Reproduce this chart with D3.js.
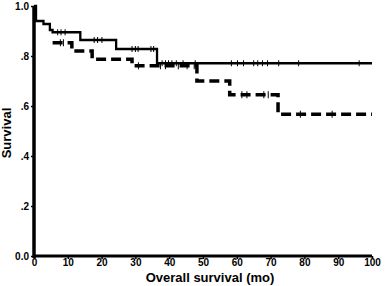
<!DOCTYPE html>
<html><head><meta charset="utf-8">
<script src="https://cdn.jsdelivr.net/npm/d3@7"></script>
<style>body{margin:0;background:#fff}svg{display:block}text{font-family:"Liberation Sans",Arial,sans-serif;font-weight:bold;fill:#000}</style>
</head><body><svg id="c" width="387" height="286"></svg>
<script>
const xTicks = [0,10,20,30,40,50,60,70,80,90,100];
const yTicks = [0,0.2,0.4,0.6,0.8,1.0];
const yTickLabels = ["0.0",".2",".4",".6",".8","1.0"];
const solidTimes = [0,0.6,2.8,4.7,5.5,13.7,24.3,36.4,100];
const solidSurv  = [1.0,0.94,0.928,0.904,0.895,0.864,0.828,0.771,0.771];
const solidCensorT = [7,8,9.2,17.8,18.8,20.1,29,30,30.8,34.6,35.4,37.9,38.9,39.8,40.8,42.1,44.1,47.7,58.4,60.2,62,65,66.2,67.6,69.1,72.4,78.3,96.2];
const dashTimes = [5.5,11.2,17.2,29,48.2,57.9,72.2,100];
const dashSurv  = [0.853,0.82,0.787,0.761,0.70,0.645,0.567,0.567];
const dashCensorT = [7.8,8.7,30.9,37.4,38.9,42.7,45.3,47.4,61.5,63,68,69.3,78.8,88.2];

const svg = d3.select("#c");
const x = d3.scaleLinear().domain([0,100]).range([34,372]);
const y = d3.scaleLinear().domain([0,1]).range([256,6]);

function stepVal(times, surv, t){
  let v = surv[0];
  for(let i=0;i<times.length;i++){ if(times[i]<=t) v=surv[i]; }
  return v;
}
const line = d3.line().x(d=>x(d[0])).y(d=>y(d[1])).curve(d3.curveStepAfter);

const solidData = solidTimes.map((t,i)=>[t,solidSurv[i]]);
const dashData = dashTimes.map((t,i)=>[t,dashSurv[i]]);

svg.append("path").attr("d",line(dashData)).attr("fill","none").attr("stroke","#000")
  .attr("stroke-width",3.5).attr("stroke-dasharray","10,5");
svg.append("path").attr("d",line(solidData)).attr("fill","none").attr("stroke","#000")
  .attr("stroke-width",2.3);

svg.selectAll("line.cs").data(solidCensorT).enter().append("line")
  .attr("x1",d=>x(d)).attr("x2",d=>x(d))
  .attr("y1",d=>y(stepVal(solidTimes,solidSurv,d))-3).attr("y2",d=>y(stepVal(solidTimes,solidSurv,d))+3)
  .attr("stroke","#000").attr("stroke-width",1);
svg.selectAll("line.cd").data(dashCensorT).enter().append("line")
  .attr("x1",d=>x(d)).attr("x2",d=>x(d))
  .attr("y1",d=>y(stepVal(dashTimes,dashSurv,d))-3.5).attr("y2",d=>y(stepVal(dashTimes,dashSurv,d))+3.5)
  .attr("stroke","#000").attr("stroke-width",1);

// axes
const xAxis = svg.append("g").attr("transform","translate(0,256)")
  .call(d3.axisBottom(x).tickValues(xTicks).tickSize(3).tickPadding(0));
xAxis.select(".domain").attr("stroke-width",3).attr("d",`M${x(0)},0H${x(100)}`);
xAxis.selectAll(".tick line").attr("stroke-width",1.5);
xAxis.selectAll("text").attr("font-size",10).attr("dy","0.71em").style("font-weight","bold").attr("font-family","Liberation Sans, Arial, sans-serif");

const yAxis = svg.append("g").attr("transform","translate(34,0)")
  .call(d3.axisLeft(y).tickValues(yTicks).tickFormat((d,i)=>yTickLabels[i]).tickSize(3).tickPadding(2));
yAxis.select(".domain").attr("stroke-width",3.5).attr("d",`M0,${y(0)+2}V${y(1)}`);
yAxis.selectAll(".tick line").attr("stroke-width",1.5);
yAxis.selectAll("text").attr("font-size",10).style("font-weight","bold").attr("font-family","Liberation Sans, Arial, sans-serif");

svg.append("text").attr("x",210).attr("y",282).attr("text-anchor","middle").attr("font-size",13).text("Overall survival (mo)");
svg.append("text").attr("transform","translate(11,133) rotate(-90)").attr("text-anchor","middle").attr("font-size",13).text("Survival");
</script></body></html>
